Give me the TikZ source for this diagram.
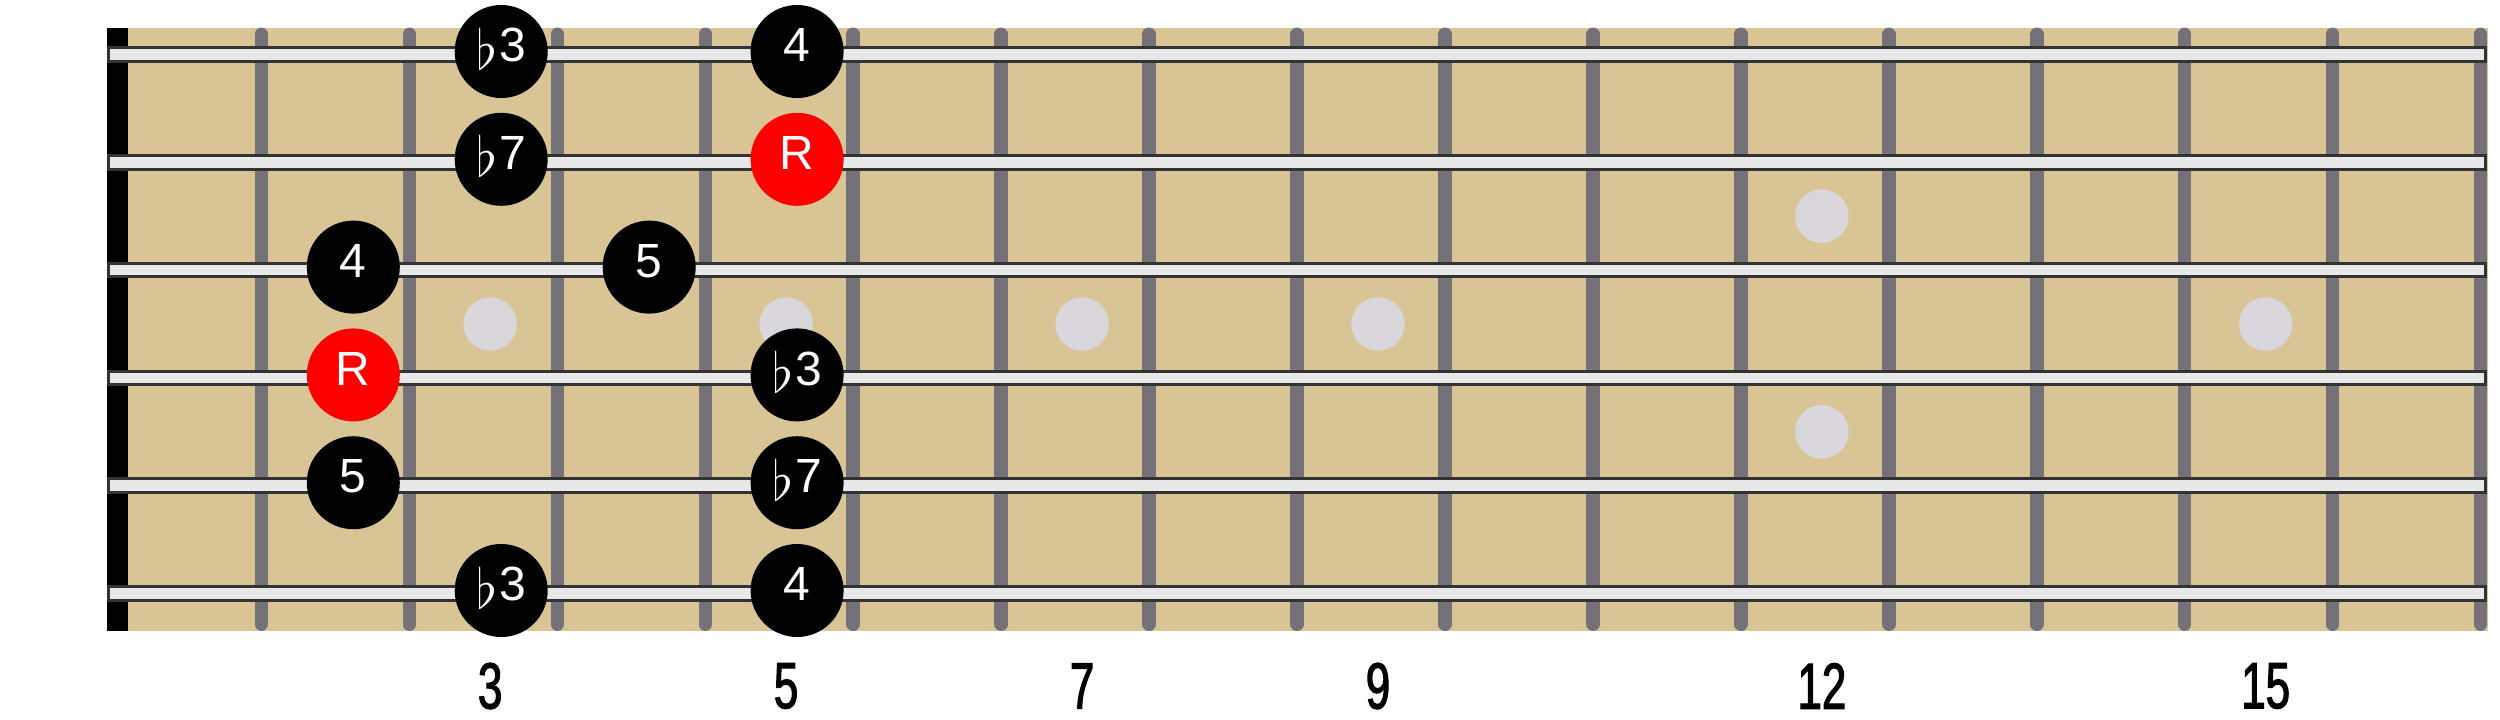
\documentclass[tikz,border=0pt]{standalone}
\usepackage{graphicx}
\usepackage{fontspec}
\setmainfont{Liberation Sans}
\newfontfamily\labelfont[FakeStretch=0.67,FakeBold=1.8]{Liberation Sans}
\definecolor{board}{HTML}{D9C495}
\definecolor{fretgray}{HTML}{747178}
\definecolor{strfill}{HTML}{E8E8E8}
\definecolor{strline}{HTML}{333333}
\definecolor{inlaygray}{HTML}{D9D7DB}
\newcommand\myflat{\raisebox{-2.2pt}{\scalebox{1.15}{$\flat$}}\kern0.5pt}
\tikzset{
  fretwire/.style={draw=fretgray, line width=4pt, line cap=round},
  gstring/.style={fill=strfill, draw=strline, line width=0.9pt},
  inlay/.style={fill=inlaygray},
  note/.style={circle, fill=black, text=white, minimum size=27.9pt, inner sep=0pt,
    font=\fontsize{14.4}{16}\selectfont, text height=10.3pt, text depth=4.2pt},
  root/.style={note, fill=red},
  fretnum/.style={font=\labelfont\fontsize{19.6}{21}\selectfont, inner sep=0pt, text=black}
}
\begin{document}
\begin{tikzpicture}[x=0.3pt,y=-0.3pt]
\useasboundingbox (0,0) rectangle (2500,719);
% fretboard
\fill[board] (107,27.5) rectangle (2487.5,631);
% frets
\foreach \k in {1,...,16} {
  \pgfmathsetmacro\fx{261.3+(\k-1)*147.96}
  \draw[fretwire] (\fx,34.2) -- (\fx,624.3);
}
% nut
\fill[black] (107,27.5) rectangle (127.5,631);
% inlays
\foreach \ix/\iy in {490.2/324, 786.1/324, 1082.1/324, 1378.0/324, 1821.9/216.2, 1821.9/431.8, 2265.7/324} {
  \fill[inlay] (\ix,\iy) circle[radius=26.75];
}
% strings
\foreach \s in {1,...,6} {
  \pgfmathsetmacro\sy{54.5+(\s-1)*107.8}
  \filldraw[gstring] (108.5,\sy-6.85) rectangle (2485.5,\sy+6.85);
}
% fret numbers
\node[fretnum] (l3) at (490.2,686) {3};
\node[fretnum] (l5) at (786.1,686) {5};
\node[fretnum] (l7) at (1082.1,686) {7};
\node[fretnum] (l9) at (1378.0,686) {9};
\node[fretnum] (l12) at (1821.9,686) {12};
\node[fretnum] (l15) at (2265.7,686) {15};
% notes
\node[note] (s1f3) at (501.2,51.5) {\myflat 3};
\node[note] (s1f5) at (797.1,51.5) {4};
\node[note] (s2f3) at (501.2,159.3) {\myflat 7};
\node[root] (s2f5) at (797.1,159.3) {R};
\node[note] (s3f2) at (353.3,267.1) {4};
\node[note] (s3f4) at (649.2,267.1) {5};
\node[root] (s4f2) at (353.3,374.9) {R};
\node[note] (s4f5) at (797.1,374.9) {\myflat 3};
\node[note] (s5f2) at (353.3,482.7) {5};
\node[note] (s5f5) at (797.1,482.7) {\myflat 7};
\node[note] (s6f3) at (501.2,590.5) {\myflat 3};
\node[note] (s6f5) at (797.1,590.5) {4};
\end{tikzpicture}
\end{document}
